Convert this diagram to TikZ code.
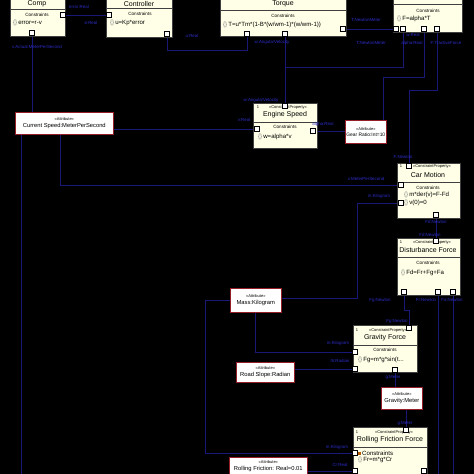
\documentclass[tikz,border=0pt]{standalone}
\usepackage{fontspec}
\setmainfont{Liberation Sans}
\usetikzlibrary{positioning}
\definecolor{bkfill}{RGB}{255,255,232}
\definecolor{wire}{RGB}{24,24,118}
\definecolor{lblblue}{RGB}{45,45,200}
\definecolor{attrred}{RGB}{150,30,40}
\pgfdeclarelayer{bg}
\pgfdeclarelayer{wires}
\pgfsetlayers{bg,wires,main}
\begin{document}
\begin{tikzpicture}[x=1pt,y=-1pt,
    blk/.style={draw=black!75, fill=bkfill, anchor=north west, inner sep=0pt, line width=0.5pt},
    attr/.style={draw=attrred, fill=white, anchor=north west, inner sep=0pt, line width=0.6pt, align=center, font=\fontsize{5.8}{6.5}\selectfont},
    prt/.style={draw=black, fill=white, minimum size=5pt, inner sep=0pt, line width=0.4pt},
    wr/.style={draw=wire, line width=0.7pt},
    lbl/.style={text=lblblue, font=\fontsize{4.4}{5}\selectfont, inner sep=0pt},
    nm/.style={font=\fontsize{7}{8}\selectfont, inner sep=0pt},
    st/.style={font=\fontsize{4}{4.5}\selectfont, inner sep=0pt},
    cn/.style={font=\fontsize{4.6}{5}\selectfont, inner sep=0pt},
    eq/.style={font=\fontsize{6.1}{7}\selectfont, inner sep=0pt, anchor=west},
    sepl/.style={draw=black!75, line width=0.5pt}]
    \begin{pgfonlayer}{bg}
    \fill[black] (0,0) rectangle (474,474);
    \end{pgfonlayer}
    \useasboundingbox (0,0) rectangle (474,474);
    \clip (0,0) rectangle (474,474);
    % Comp
    \node[blk, minimum width=55pt, minimum height=46pt] (comp) at (10,-10) {};
    \draw[sepl] (10,9.5) -- (65,9.5);
    \node[nm] (compName) at (37,4) {Comp};
    \node[cn] (compCn) at (37,15) {Constraints};
    \node[eq] (compEq) at (13,23) {\textcolor{gray}{\{\}}\,error=r-v};
    \node[prt] (compE) at (63,15) {};
    \node[prt] (compS) at (32,33) {};
    % Controller
    \node[blk, minimum width=66pt, minimum height=45pt] (ctrl) at (106,-8) {};
    \draw[sepl] (106,8) -- (172,8);
    \node[nm] (ctrlName) at (139,3.5) {Controller};
    \node[cn] (ctrlCn) at (140,14) {Constraints};
    \node[eq] (ctrlEq) at (110,23) {\textcolor{gray}{\{\}}\,u=Kp*error};
    \node[prt] (ctrlW) at (109,15) {};
    \node[prt] (ctrlS) at (167,34) {};
    % Torque
    \node[blk, minimum width=126pt, minimum height=44pt] (torq) at (220,-8) {};
    \draw[sepl] (220,10) -- (346,10);
    \node[nm] (torqName) at (283,4) {Torque};
    \node[cn] (torqCn) at (283,16) {Constraints};
    \node[eq] (torqEq) at (223,25) {\textcolor{gray}{\{\}}\,T=u*Tm*(1-B*(w/wm-1)*(w/wm-1))};
    \node[prt] (torqU) at (247,34) {};
    \node[prt] (torqW) at (285,34) {};
    \node[prt] (torqT) at (343,29) {};
    % Transmission
    \node[blk, minimum width=69pt, minimum height=40pt] (trans) at (393,-8) {};
    \draw[sepl] (393,4) -- (462,4);
    \node[cn] (transCn) at (428,11) {Constraints};
    \node[eq] (transEq) at (397,19) {\textcolor{gray}{\{\}}\,F=alpha*T};
    \node[prt] (transT) at (396,29) {};
    \node[prt] (transW) at (403,29) {};
    \node[prt] (transA) at (424,29) {};
    \node[prt] (transF) at (437,29) {};
    % Engine Speed
    \node[blk, minimum width=64pt, minimum height=45pt] (eng) at (253,103) {};
    \node[st] (engMul) at (258,107) {1};
    \node[st] (engSt) at (288,107) {«ConstraintProperty»};
    \node[nm] (engName) at (285,115) {Engine Speed};
    \draw[sepl] (253,122) -- (317,122);
    \node[cn] (engCn) at (285,127) {Constraints};
    \node[eq] (engEq) at (258,137) {\textcolor{gray}{\{\}}\,w=alpha*v};
    \node[prt] (engW) at (285,106) {};
    \node[prt] (engV) at (257,129) {};
    \node[prt] (engA) at (313,131) {};
    % Car Motion
    \node[blk, minimum width=63pt, minimum height=55pt] (car) at (397,163) {};
    \node[st] (carMul) at (401,166) {1};
    \node[st] (carSt) at (432,166) {«ConstraintProperty»};
    \node[nm] (carName) at (428,175) {Car Motion};
    \draw[sepl] (397,182) -- (460,182);
    \node[cn] (carCn) at (428,188) {Constraints};
    \node[eq] (carEq) at (404,195) {\textcolor{gray}{\{\}}\,m*der(v)=F-Fd};
    \node[eq] (carEqb) at (404,203) {\textcolor{gray}{\{\}}\,v(0)=0};
    \node[prt] (carF) at (409,166) {};
    \node[prt] (carV) at (401,185) {};
    \node[prt] (carM) at (401,203) {};
    \node[prt] (carFd) at (436,215) {};
    % Disturbance Force
    \node[blk, minimum width=63pt, minimum height=57pt] (dist) at (397,238) {};
    \node[st] (distMul) at (401,242) {1};
    \node[st] (distSt) at (432,242) {«ConstraintProperty»};
    \node[nm] (distName) at (428,250) {Disturbance Force};
    \draw[sepl] (397,257) -- (460,257);
    \node[cn] (distCn) at (428,263) {Constraints};
    \node[eq] (distEq) at (401,273) {\textcolor{gray}{\{\}}\,Fd=Fr+Fg+Fa};
    \node[prt] (distFd) at (436,241) {};
    \node[prt] (distFg) at (404,292) {};
    \node[prt] (distFr) at (438,292) {};
    \node[prt] (distFa) at (453,292) {};
    % Gravity Force
    \node[blk, minimum width=64pt, minimum height=47pt] (grav) at (353,325) {};
    \node[st] (gravMul) at (357,330) {1};
    \node[st] (gravSt) at (388,330) {«ConstraintProperty»};
    \node[nm] (gravName) at (385,338) {Gravity Force};
    \draw[sepl] (353,345) -- (417,345);
    \node[cn] (gravCn) at (385,350) {Constraints};
    \node[eq] (gravEq) at (358,360) {\textcolor{gray}{\{\}}\,Fg=m*g*sin(t...};
    \node[prt] (gravFg) at (409,328) {};
    \node[prt] (gravM) at (355,352) {};
    \node[prt] (gravTh) at (355,369) {};
    \node[prt] (gravG) at (395,370) {};
    % Rolling Friction Force
    \node[blk, minimum width=74pt, minimum height=55pt] (roll) at (353,427) {};
    \node[st] (rollMul) at (357,432) {1};
    \node[st] (rollSt) at (394,432) {«ConstraintProperty»};
    \node[nm] (rollName) at (390,440) {Rolling Friction Force};
    \draw[sepl] (353,447) -- (427,447);
    \node[eq] (rollCn) at (358,453) {\textcolor{orange!70!black}{\rule{3pt}{3pt}}\,Constraints};
    \node[eq] (rollEq) at (358,460) {\textcolor{gray}{\{\}}\,Fr=m*g*Cr};
    \node[prt] (rollG) at (406,430) {};
    \node[prt] (rollM) at (355,453) {};
    \node[prt] (rollCr) at (355,471) {};
    \node[prt] (rollFr) at (424,471) {};
    % Attribute boxes
    \node[attr, minimum width=98pt, minimum height=22pt] (cur) at (15,112) {{\fontsize{4}{4.5}\selectfont «Attribute»}\\Current Speed:MeterPerSecond};
    \node[attr, minimum width=41pt, minimum height=23pt, font=\fontsize{4.9}{6}\selectfont] (gear) at (345,120) {{\fontsize{4}{4.5}\selectfont «Attribute»}\\Gear Ratio:Int=10};
    \node[attr, minimum width=51pt, minimum height=24pt] (mass) at (230,288) {{\fontsize{4}{4.5}\selectfont «Attribute»}\\Mass:Kilogram};
    \node[attr, minimum width=58pt, minimum height=20pt] (slope) at (236,362) {{\fontsize{4}{4.5}\selectfont «Attribute»}\\Road Slope:Radian};
    \node[attr, minimum width=41pt, minimum height=22pt] (gravity) at (381,387) {{\fontsize{4}{4.5}\selectfont «Attribute»}\\Gravity:Meter};
    \node[attr, minimum width=78pt, minimum height=18pt] (rollAttr) at (229,457) {{\fontsize{4}{4.5}\selectfont «Attribute»}\\Rolling Friction: Real=0.01};
    % Bends
    \coordinate (wJoin) at (285,67);
    \coordinate (aBend) at (383,77);
    \coordinate (fBend) at (409,90);
    \coordinate (mBend) at (357,298);
    \coordinate (mLeft) at (205,453);
    % Connectors
    \begin{pgfonlayer}{wires}
    \draw[wr] (compE) -- (ctrlW);
    \draw[wr] (compS) -- (compS |- cur.north);
    \draw[wr] (ctrlS) -- ++(0,16) -| (torqU);
    \draw[wr] (torqW) -- (engW);
    \draw[wr] (wJoin) -| (transW);
    \draw[wr] (torqT) -- (transT);
    \draw[wr] (transA) |- (aBend) -- (aBend |- gear.north);
    \draw[wr] (transF) |- (fBend) -- (carF);
    \draw[wr] (cur.east |- engV) -- (engV);
    \draw[wr] (engA) -- (gear.west |- engA);
    \draw[wr] (cur.south west) ++(45,0) |- (carV);
    \draw[wr] (cur.south west) ++(6,0) -- ++(0,360);
    \draw[wr] (carFd) -- (distFd);
    \draw[wr] (carM) -| (mBend) -- (mBend -| mass.east);
    \draw[wr] (mass.south) |- (gravM);
    \draw[wr] (mass.west) -| (mLeft) -- (rollM);
    \draw[wr] (slope.east |- gravTh) -- (gravTh);
    \draw[wr] (distFg) -- ++(0,18) -| (gravFg);
    \draw[wr] (gravG) -- (gravG |- gravity.north);
    \draw[wr] (gravity.south -| rollG) -- (rollG);
    \draw[wr] (rollAttr.east |- rollCr) -- (rollCr);
    \draw[wr] (distFr) -- ++(0,200);
    \draw[wr] (distFa) -- ++(0,200);
    \draw[wr] (rollFr) -- ++(0,20);
    \end{pgfonlayer}
    % Labels
    \node[lbl] (lErr) at (79,7) {error:Real};
    \node[lbl] (lErrb) at (91,23) {e:Real};
    \node[lbl] (lVact) at (37,47) {v:Actual:MeterPerSecond};
    \node[lbl] (lU) at (192,36) {u:Real};
    \node[lbl] (lW) at (272,42) {w:AngularVelocity};
    \node[lbl] (lT) at (366,20) {T:NewtonMeter};
    \node[lbl] (lWb) at (413,35) {w:Real};
    \node[lbl] (lTb) at (371,43) {T:NewtonMeter};
    \node[lbl] (lAlpha) at (412,43) {alpha:Real};
    \node[lbl] (lF) at (446,43) {F:TractiveForce};
    \node[lbl] (lEngW) at (261,100) {w:AngularVelocity};
    \node[lbl] (lEngV) at (244,120) {v:Real};
    \node[lbl] (lEngA) at (323,124) {alpha:Real};
    \node[lbl] (lCarF) at (403,157) {F:Newton};
    \node[lbl] (lCarV) at (366,179) {v:MeterPerSecond};
    \node[lbl] (lCarM) at (379,196) {m:Kilogram};
    \node[lbl] (lCarFd) at (436,222) {Fd:Newton};
    \node[lbl] (lDistFd) at (430,235) {Fd:Newton};
    \node[lbl] (lDistFg) at (380,300) {Fg:Newton};
    \node[lbl] (lDistFr) at (426,300) {Fr:Newton};
    \node[lbl] (lDistFa) at (452,300) {Fa:Newton};
    \node[lbl] (lGravFg) at (397,321) {Fg:Newton};
    \node[lbl] (lGravM) at (338,343) {m:Kilogram};
    \node[lbl] (lGravTh) at (340,361) {th:Radian};
    \node[lbl] (lGravG) at (393,377) {g:Meter};
    \node[lbl] (lRollG) at (405,423) {g:Meter};
    \node[lbl] (lRollM) at (337,447) {m:Kilogram};
    \node[lbl] (lRollCr) at (340,465) {Cr:Real};
\end{tikzpicture}
\end{document}
